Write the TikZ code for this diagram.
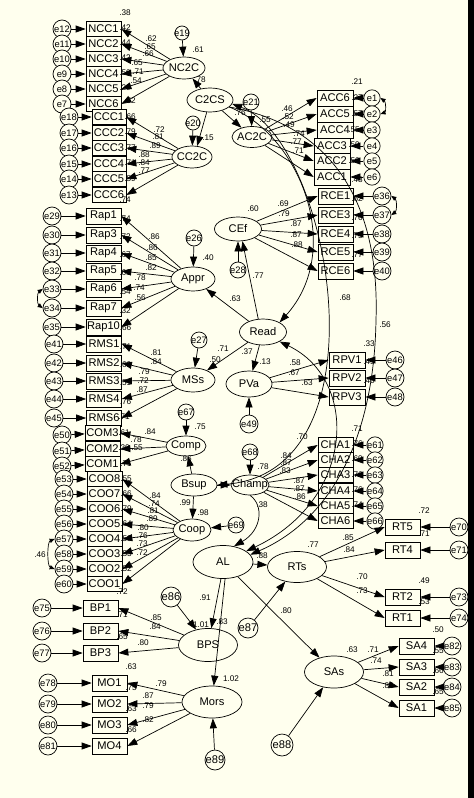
\documentclass[tikz,border=0pt]{standalone}
\usepackage{fontspec}
\setmainfont{Liberation Sans}
\usetikzlibrary{arrows.meta,shapes.geometric}
\definecolor{ivory}{RGB}{255,255,238}
\tikzset{
	>={Triangle[length=3mm,width=2.1mm]}
}

\begin{document}
\begin{tikzpicture}[
x = 0.3mm, y = -0.3mm,
line width = 0.6pt,
every node/.style = {
	font = \fontsize{9.5}{11}\selectfont
},
obs/.style = {
	draw, fill = ivory, inner sep = 0pt,
	minimum width = 10.5mm, minimum height = 4.8mm
},
lat/.style = {
	draw, ellipse, fill = ivory, inner sep = 0pt,
	label = center:#1
},
sz/.style 2 args = {
	minimum width = #1, minimum height = #2
},
err/.style = {
	draw, circle, fill = ivory, inner sep = 0pt,
	minimum size = 5.4mm, label = {[etxt]center:#1}
},
errb/.style = {
	draw, circle, fill = ivory, inner sep = 0pt,
	minimum size = 6mm, label = center:#1
},
etxt/.style = {
	font = \fontsize{8}{9}\selectfont
},
val/.style = {
	inner sep = 0pt, font = \fontsize{7}{8}\selectfont
},
rsq/.style = {
	val, anchor = south west, xshift = -2pt, yshift = 4pt
},
cov/.style = {
	<->, >={Triangle[length=1.5mm,width=1.3mm]}
}
]

\fill[ivory] (0,0) rectangle (474,798);
\useasboundingbox (0,0) rectangle (474,798);

\node[lat=NC2C,  sz={12.6mm}{6.6mm}]	(NC2C)	at (184,68)	{};
\node[lat=C2CS,  sz={13.8mm}{7.2mm}]	(C2CS)	at (210,100)	{};
\node[lat=CC2C,  sz={12mm}{6.6mm}]	(CC2C)	at (192,157)	{};
\node[lat=AC2C,  sz={12mm}{6.3mm}]	(AC2C)	at (252,137)	{};
\node[lat=CEf,   sz={14.1mm}{7.2mm}]	(CEf)	at (238,229)	{};
\node[lat=Appr,  sz={13.2mm}{7.2mm}]	(Appr)	at (193,279)	{};
\node[lat=Read,  sz={14.1mm}{7.8mm}]	(Read)	at (263,332)	{};
\node[lat=MSs,   sz={13.2mm}{7.2mm}]	(MSs)	at (193,380)	{};
\node[lat=PVa,   sz={13.8mm}{7.8mm}]	(PVa)	at (249,384)	{};
\node[lat=Comp,  sz={12mm}{6mm}]	(Comp)	at (186,446)	{};
\node[lat=Bsup,  sz={13.8mm}{6.6mm}]	(Bsup)	at (194,485)	{};
\node[lat=Champ, sz={11.4mm}{6mm}]	(Champ)	at (250,485)	{};
\node[lat=Coop,  sz={11.4mm}{6.6mm}]	(Coop)	at (192,530)	{};
\node[lat=AL,    sz={18mm}{9.9mm}]	(AL)	at (223,562)	{};
\node[lat=RTs,   sz={17.7mm}{9.3mm}]	(RTs)	at (297,567)	{};
\node[lat=BPS,   sz={17.7mm}{9.9mm}]	(BPS)	at (208,645)	{};
\node[lat=Mors,  sz={18mm}{9.6mm}]	(Mors)	at (212,702)	{};
\node[lat=SAs,   sz={17.7mm}{9.6mm}]	(SAs)	at (334,672)	{};

\node[err=e19, minimum size=4.2mm]	(e19)	at (182,33)	{};
\node[err=e20, minimum size=4.2mm]	(e20)	at (193,123)	{};
\node[err=e21, minimum size=4.8mm]	(e21)	at (251,102)	{};
\node[err=e26, minimum size=4.8mm]	(e26)	at (194,238)	{};
\node[err=e28, minimum size=4.8mm]	(e28)	at (238,270)	{};
\node[err=e27, minimum size=4.8mm]	(e27)	at (199,340)	{};
\node[err=e49]				(e49)	at (249,424)	{};
\node[err=e67, minimum size=4.8mm]	(e67)	at (186,412)	{};
\node[err=e68, minimum size=4.8mm]	(e68)	at (250,452)	{};
\node[err=e69, minimum size=4.8mm]	(e69)	at (236,525)	{};
\node[errb=e86]				(e86)	at (171,597)	{};
\node[errb=e87]				(e87)	at (248,628)	{};
\node[errb=e88, minimum size=6.6mm]	(e88)	at (282,745)	{};
\node[errb=e89]				(e89)	at (215,760)	{};

\foreach \n/\e/\y/\r in {NCC1/e12/29/.38, NCC2/e11/44/.42, NCC3/e10/59/.44, NCC4/e9/74/.42, NCC5/e8/89/.50, NCC6/e7/104/.29}{
	\node[obs, minimum height=4.6mm]	(\n)	at (103.5,\y)	{\n};
	\node[err=\e]				(\e)	at (62,\y)	{};
	\node[rsq]				(r\n)	at (\n.north east)	{\r};
	\draw[->] (\e) -- (\n);
	\draw[->] (NC2C) -- (\n.east);
}
\foreach \n/\e/\y/\r in {CCC1/e18/117/.52, CCC2/e17/133/.66, CCC3/e16/148/.79, CCC4/e15/164/.77, CCC5/e14/179/.71, CCC6/e13/195/.59}{
	\node[obs, minimum width=10.2mm, minimum height=4.7mm]	(\n)	at (109,\y)	{\n};
	\node[err=\e]				(\e)	at (69,\y)	{};
	\node[rsq]				(r\n)	at (\n.north east)	{\r};
	\draw[->] (\e) -- (\n);
	\draw[->] (CC2C) -- (\n.east);
}
\foreach \n/\e/\y/\r in {Rap1/e29/216/.74, Rap3/e30/235/.74, Rap4/e31/253/.72, Rap5/e32/271/.67, Rap6/e33/289/.61, Rap7/e34/308/.54, Rap10/e35/327/.32}{
	\node[obs]				(\n)	at (103.5,\y)	{\n};
	\node[err=\e]				(\e)	at (52,\y)	{};
	\node[rsq]				(r\n)	at (\n.north east)	{\r};
	\draw[->] (\e) -- (\n);
	\draw[->] (Appr) -- (\n.east);
}
\foreach \n/\e/\y/\r in {RMS1/e41/344/.66, RMS2/e42/363/.71, RMS3/e43/381/.62, RMS4/e44/399/.51, RMS6/e45/418/.76}{
	\node[obs]				(\n)	at (104,\y)	{\n};
	\node[err=\e]				(\e)	at (54,\y)	{};
	\node[rsq]				(r\n)	at (\n.north east)	{\r};
	\draw[->] (\e) -- (\n);
	\draw[->] (MSs) -- (\n.east);
}
\foreach \n/\e/\y/\r in {COM3/e50/433/.71, COM2/e51/449/.61, COM1/e52/464/.30}{
	\node[obs, minimum height=4.65mm]	(\n)	at (102.5,\y)	{\n};
	\node[err=\e]				(\e)	at (62,\y+2)	{};
	\node[rsq]				(r\n)	at (\n.north east)	{\r};
	\draw[->] (\e) -- (\n);
	\draw[->] (Comp) -- (\n.east);
}
\foreach \n/\e/\y/\r in {COO8/e53/479/.71, COO7/e54/494/.55, COO6/e55/509/.66, COO5/e56/524/.79, COO4/e57/539/.64, COO3/e58/554/.58, COO2/e59/569/.53, COO1/e60/584/.52}{
	\node[obs, minimum height=4.5mm]	(\n)	at (104.5,\y)	{\n};
	\node[err=\e]				(\e)	at (64,\y)	{};
	\node[rsq]				(r\n)	at (\n.north east)	{\r};
	\draw[->] (\e) -- (\n);
	\draw[->] (Coop) -- (\n.east);
}
\foreach \n/\e/\y/\r in {BP1/e75/608/.72, BP2/e76/631/.71, BP3/e77/653/.65}{
	\node[obs]				(\n)	at (100.5,\y)	{\n};
	\node[err=\e]				(\e)	at (42,\y)	{};
	\node[rsq]				(r\n)	at (\n.north east)	{\r};
	\draw[->] (\e) -- (\n);
	\draw[->] (BPS) -- (\n.east);
}
\foreach \n/\e/\y/\r in {MO1/e78/683/.63, MO2/e79/704/.75, MO3/e80/725/.63, MO4/e81/746/.66}{
	\node[obs]				(\n)	at (109.5,\y)	{\n};
	\node[err=\e]				(\e)	at (48,\y)	{};
	\node[rsq]				(r\n)	at (\n.north east)	{\r};
	\draw[->] (\e) -- (\n);
	\draw[->] (Mors) -- (\n.east);
}
\foreach \n/\e/\y/\r/\x in {ACC6/e1/98/.21/335, ACC5/e2/114/.27/335, ACC4/e3/130/.57/335, ACC3/e4/146/.55/332, ACC2/e5/161/.59/332, ACC1/e6/177/.50/332}{
	\node[obs, minimum width=10.8mm, minimum height=4.75mm]	(\n)	at (\x,\y)	{\n};
	\node[err=\e, minimum size=4.9mm]	(\e)	at (372,\y)	{};
	\node[rsq]				(r\n)	at (\n.north east)	{\r};
	\draw[->] (\e) -- (\n);
	\draw[->] (AC2C) -- (\n.west);
}
\foreach \n/\e/\y/\r in {RCE1/e36/196/.48, RCE3/e37/215/.62, RCE4/e38/234/.76, RCE5/e39/252/.75, RCE6/e40/271/.77}{
	\node[obs]				(\n)	at (335.5,\y)	{\n};
	\node[err=\e]				(\e)	at (382,\y)	{};
	\node[rsq]				(r\n)	at (\n.north east)	{\r};
	\draw[->] (\e) -- (\n);
	\draw[->] (CEf) -- (\n.west);
}
\foreach \n/\e/\y/\r in {RPV1/e46/360/.33, RPV2/e47/378/.45, RPV3/e48/397/.40}{
	\node[obs, minimum width=10.8mm]	(\n)	at (347,\y)	{\n};
	\node[err=\e]				(\e)	at (395,\y)	{};
	\node[rsq]				(r\n)	at (\n.north east)	{\r};
	\draw[->] (\e) -- (\n);
	\draw[->] (PVa) -- (\n.west);
}
\foreach \n/\e/\y/\r in {CHA1/e61/445/.71, CHA2/e62/460/.76, CHA3/e63/475/.69, CHA4/e64/491/.76, CHA5/e65/506/.76, CHA6/e66/521/.74}{
	\node[obs, minimum height=4.6mm]	(\n)	at (335.5,\y)	{\n};
	\node[err=\e, minimum size=4.9mm]	(\e)	at (375,\y)	{};
	\node[rsq]				(r\n)	at (\n.north east)	{\r};
	\draw[->] (\e) -- (\n);
	\draw[->] (Champ) -- (\n.west);
}
\foreach \n/\e/\y/\r in {RT5/e70/527/.72, RT4/e71/550/.71, RT2/e73/597/.49, RT1/e74/618/.53}{
	\node[obs]				(\n)	at (402.5,\y)	{\n};
	\node[err=\e]				(\e)	at (459,\y)	{};
	\node[rsq]				(r\n)	at (\n.north east)	{\r};
	\draw[->] (\e) -- (\n);
	\draw[->] (RTs) -- (\n.west);
}
\foreach \n/\e/\y/\r in {SA4/e82/646/.50, SA3/e83/667/.55, SA2/e84/687/.66, SA1/e85/708/.65}{
	\node[obs]				(\n)	at (416.5,\y)	{\n};
	\node[err=\e]				(\e)	at (452,\y)	{};
	\node[rsq]				(r\n)	at (\n.north east)	{\r};
	\draw[->] (\e) -- (\n);
	\draw[->] (SAs) -- (\n.west);
}

\draw[->] (e19) -- (NC2C);
\draw[->] (C2CS) -- (NC2C);
\draw[->] (C2CS.255) -- (CC2C.65);
\draw[->] (e20) -- (CC2C);
\draw[->] (C2CS) -- (AC2C);
\draw[->] (e21) -- (AC2C);
\draw[->] (e28) -- (CEf);
\draw[->] (Read.110) -- (CEf.-70);
\draw[->] (e26) -- (Appr);
\draw[->] (Read) -- (Appr);
\draw[->] (e27) -- (MSs);
\draw[->] (Read) -- (MSs);
\draw[->] (e49) -- (PVa);
\draw[->] (Read) -- (PVa);
\draw[->] (e67) -- (Comp);
\draw[->] (Bsup) -- (Comp);
\draw[->] (Bsup) -- (Coop);
\draw[->] (e69) -- (Coop);
\draw[->] (Bsup) -- (Champ);
\draw[->] (e68) -- (Champ);
\draw[->] (AL) -- (RTs);
\draw[->] (e87) -- (RTs);
\draw[->] (AL) -- (SAs);
\draw[->] (e88) -- (SAs);
\draw[->] (AL.-97) -- (BPS);
\draw[->] (AL.-83) -- (Mors);
\draw[->] (e86) -- (BPS);
\draw[->] (e89) -- (Mors);

\draw[->] (C2CS.-20) .. controls (300,135) and (345,250) .. (Read.30);
\draw[<->] (C2CS.-10) .. controls (330,140) and (390,470) .. (Bsup.east);
\draw[->] (C2CS.-20) .. controls (330,125) and (380,200) .. (376,320) .. controls (374,440) and (330,520) .. (AL.15);
\draw[<->] (Read.-30) .. controls (360,380) and (355,500) .. (AL.25);
\draw[->] (Champ.south) .. controls (264,505) and (262,530) .. (AL.55);

\draw[cov] (e33.west) .. controls (37,293) and (37,304) .. (e34.west);
\draw[cov] (e1.east) .. controls (386,102) and (386,112) .. (e2.east);
\draw[cov] (e36.east) .. controls (397,200) and (397,211) .. (e37.east);
\draw[cov] (e57.west) .. controls (47,542) and (47,566) .. (e59.west);

\foreach \v/\x/\y [count=\i] in {.62/151/39, .65/150/47, .66/148/54, .65/137/63, .71/138/72, .54/136/81}
	\node[val] (lNC\i) at (\x,\y) {\v};
\foreach \v/\x/\y [count=\i] in {.72/159/130, .81/158/137, .89/155/146, .88/144/155, .84/144/163, .77/144/171}
	\node[val] (lCC\i) at (\x,\y) {\v};
\foreach \v/\x/\y [count=\i] in {.86/154/237, .86/152/248, .85/151/258, .82/151/268, .78/140/278, .74/139/288, .56/140/298}
	\node[val] (lAp\i) at (\x,\y) {\v};
\foreach \v/\x/\y [count=\i] in {.81/156/353, .84/156/362, .79/144/372, .72/143/381, .87/142/390}
	\node[val] (lMS\i) at (\x,\y) {\v};
\foreach \v/\x/\y [count=\i] in {.84/150/432, .78/136/440, .55/137/448}
	\node[val] (lCm\i) at (\x,\y) {\v};
\foreach \v/\x/\y [count=\i] in {.84/155/496, .74/154/504, .81/153/511, .89/152/519, .80/143/528, .76/142/536, .73/142/544, .72/142/553}
	\node[val] (lCo\i) at (\x,\y) {\v};
\foreach \v/\x/\y [count=\i] in {.85/156/618, .84/155/627, .80/143/643}
	\node[val] (lBP\i) at (\x,\y) {\v};
\foreach \v/\x/\y [count=\i] in {.79/161/684, .87/148/696, .79/148/706, .82/148/720}
	\node[val] (lMo\i) at (\x,\y) {\v};
\foreach \v/\x/\y [count=\i] in {.46/287/109, .52/288/117, .49/289/125, .74/299/134, .77/296/142, .71/298/151}
	\node[val] (lAC\i) at (\x,\y) {\v};
\foreach \v/\x/\y [count=\i] in {.69/283/204, .79/284/214, .87/296/224, .87/296/235, .88/297/245}
	\node[val] (lCE\i) at (\x,\y) {\v};
\foreach \v/\x/\y [count=\i] in {.58/295/363, .67/294/373, .63/307/383}
	\node[val] (lPV\i) at (\x,\y) {\v};
\foreach \v/\x/\y [count=\i] in {.84/286/456, .87/286/463, .83/285/471, .87/299/481, .87/299/489, .86/300/497}
	\node[val] (lCh\i) at (\x,\y) {\v};
\foreach \v/\x/\y [count=\i] in {.85/348/538, .84/349/550, .70/362/577, .73/362/591}
	\node[val] (lRT\i) at (\x,\y) {\v};
\foreach \v/\x/\y [count=\i] in {.71/373/650, .74/376/661, .81/388/674, .80/388/686}
	\node[val] (lSA\i) at (\x,\y) {\v};
\foreach \v/\x/\y [count=\i] in {.61/198/50, .78/200/80, .15/208/138, .76/240/113, .55/265/120, .60/253/209, .77/258/276, .40/208/258, .63/235/299, .71/223/349, .50/215/360, .37/247/352, .13/265/362, .75/200/427, .86/186/459, .99/185/503, .98/203/513, .78/263/467, .88/262/556, .77/313/545, .91/205/598, 1.01/201/625, .83/222/622, 1.02/231/679, .80/286/611, .63/352/650, .68/345/298, .56/385/325, .70/302/437, .38/262/505, .46/40/555}
	\node[val] (s\i) at (\x,\y) {\v};

\fill (468,0) rectangle (474,798);
\end{tikzpicture}
\end{document}
